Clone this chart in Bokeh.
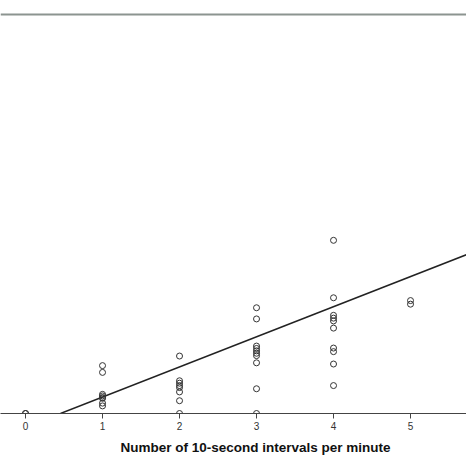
from bokeh.plotting import figure
from bokeh.models import Range1d, FixedTicker, Span, Title
from bokeh.embed import file_html
from bokeh.resources import INLINE

# data (y in arbitrary units)
x_vals = [0, 0,
          1, 1, 1, 1, 1, 1, 1, 1,
          2, 2, 2, 2, 2, 2, 2, 2,
          3, 3, 3, 3, 3, 3, 3, 3, 3, 3,
          4, 4, 4, 4, 4, 4, 4, 4, 4, 4,
          5, 5]
y_vals = [0.0, 0.0,
          12.0, 10.3, 4.8, 4.4, 4.0, 3.8, 2.6, 1.9,
          14.4, 8.2, 7.6, 7.0, 6.5, 5.4, 3.2, 0.0,
          26.5, 23.7, 16.9, 16.3, 15.7, 15.1, 14.5, 12.7, 6.2, 0.0,
          43.4, 29.0, 24.6, 23.9, 23.2, 21.4, 16.4, 15.5, 12.4, 7.0,
          28.3, 27.4]
fit_intercept = -3.43
fit_slope = 7.55
fit_x = [0.4545, 6.5]
fit_y = [fit_intercept + fit_slope * v for v in fit_x]
x_ticks = [0, 1, 2, 3, 4, 5]
top_line_value = 100
x_title = "Number of 10-second intervals per minute"

p = figure(width=466, height=466, output_backend="svg", toolbar_location=None,
           x_range=Range1d(-0.325, 5.727), y_range=Range1d(0, 103.5),
           y_axis_type=None, min_border_left=0, min_border_right=0,
           min_border_top=0, min_border_bottom=53)
p.outline_line_color = None
p.xgrid.visible = False
p.ygrid.visible = False
p.background_fill_color = "white"
p.border_fill_color = "white"

ax = p.xaxis[0]
ax.ticker = FixedTicker(ticks=x_ticks)
ax.minor_tick_line_color = None
ax.major_tick_in = 0
ax.major_tick_out = 5
ax.major_tick_line_color = "#444444"
ax.axis_line_color = "#444444"
ax.axis_line_width = 1.2
ax.major_label_text_font = "Liberation Sans"
ax.major_label_text_font_size = "10px"
ax.major_label_text_color = "#333333"
ax.major_label_standoff = 3

p.add_layout(Span(location=top_line_value, dimension="width",
                  line_color="#8c9490", line_width=2))

p.line(fit_x, fit_y, line_color="#222222", line_width=1.5)
p.scatter(x_vals, y_vals, size=6, fill_color=None, line_color="#333333", line_width=1)

p.add_layout(Title(text=x_title, align="left", offset=120,
                   text_font="Liberation Sans", text_font_style="bold",
                   text_font_size="13.5px", text_color="#111111"), "below")

open("out.html", "w").write(file_html(p, INLINE))
